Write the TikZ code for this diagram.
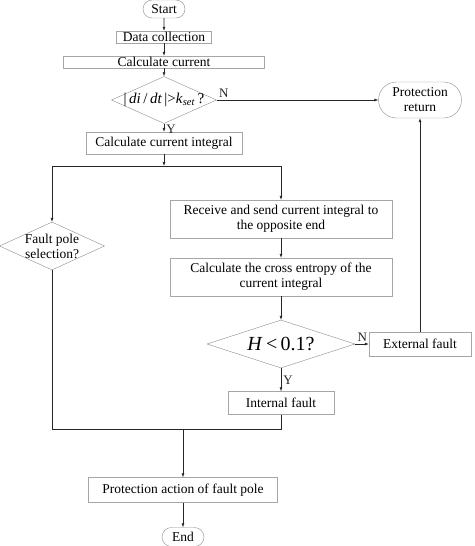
\documentclass[tikz,border=0pt]{standalone}
\usetikzlibrary{arrows.meta,shapes,positioning,calc}
\usepackage{fontspec}
\setmainfont{Liberation Serif}

\begin{document}
\begin{tikzpicture}
[x=1pt,y=-1pt,
    every node/.style={font=\fontsize{13.5}{15}\selectfont},
block/.style={draw=black!35,inner sep=0pt,align=center},
decision/.style={diamond,draw=black!45,inner sep=0pt},
term/.style={rounded rectangle,draw=black!45,inner sep=0pt,align=center},
lbl/.style={inner sep=2pt,font=\fontsize{13}{14}\selectfont},
edge/.style={black!85,line width=.6pt},
edgearr/.style={edge,-{Latex[length=4pt,width=3pt]}}]
\useasboundingbox (0,0) rectangle (474,546);
%%%%%%%%%%
%% main column
\node (start) [term,minimum width=42pt,minimum height=18pt] at (164,9) {Start};
\node (data) [block,minimum width=95pt,minimum height=12pt] at (164,37) {Data collection};
\node (calc) [block,minimum width=201pt,minimum height=12pt] at (164,62) {Calculate current};
\node (dec1) [decision,minimum width=105pt,minimum height=47pt,
  label={[font=\fontsize{15}{16}\selectfont]center:{|\,\textit{di}\,/\,\textit{dt}\,|>\textit{k}\textsubscript{\textit{set}}\,?}}] at (164,100) {};
\node (integ) [block,minimum width=156pt,minimum height=22pt] at (164,143) {Calculate current integral};
\coordinate (split) at (164,166);
%%
\node (ret) [term,minimum width=83pt,minimum height=36pt] at (420,100) {Protection\\return};
%% left branch
\node (pole) [decision,minimum width=105pt,minimum height=48pt,
  label={[align=center]center:Fault pole\\selection?}] at (52,246) {};
%% right branch
\node (recv) [block,minimum width=222pt,minimum height=38pt] at (281,219) {Receive and send current integral to\\the opposite end};
\node (cross) [block,minimum width=222pt,minimum height=38pt] at (281,277) {Calculate the cross entropy of the\\current integral};
\node (dec2) [decision,minimum width=148pt,minimum height=48pt,
  label={[font=\fontsize{20}{22}\selectfont]center:{\textit{H}\,<\,0.1?}}] at (281,344) {};
\node (ext) [block,minimum width=102pt,minimum height=24pt] at (420,344) {External fault};
\node (intf) [block,minimum width=106pt,minimum height=23pt] at (281,403) {Internal fault};
%%
\coordinate (merge) at (183,429);
\node (act) [block,minimum width=189pt,minimum height=25pt] at (183,490) {Protection action of fault pole};
\node (end) [term,minimum width=42pt,minimum height=19pt] at (183,537) {End};
%%%%%%%%%%
%% connectors
\draw[edgearr] (start) -- (data);
\draw[edgearr] (data) -- (calc);
\draw[edgearr] (calc) -- (dec1);
\draw[edgearr] (dec1) -- (integ) node[lbl,pos=.7,right] {Y};
\draw[edgearr] (dec1.east) -- (ret.west) node[lbl,pos=0,above right] {N};
\draw[edgearr] (integ) -- (split);
\draw[edgearr] (split) -| (pole);
\draw[edgearr] (split) -| (recv);
\draw[edgearr] (recv) -- (cross);
\draw[edgearr] (cross) -- (dec2);
\draw[edgearr] (dec2.east) -- (ext.west) node[lbl,pos=0,above right] {N};
\draw[edgearr] (dec2) -- (intf) node[lbl,midway,right] {Y};
\draw[edgearr] (ext) -- (ret);
\draw[edge] (pole.south) |- (merge);
\draw[edge] (intf.south) |- (merge);
\draw[edgearr] (merge) -- (act);
\draw[edgearr] (act) -- (end);
\end{tikzpicture}
\end{document}
